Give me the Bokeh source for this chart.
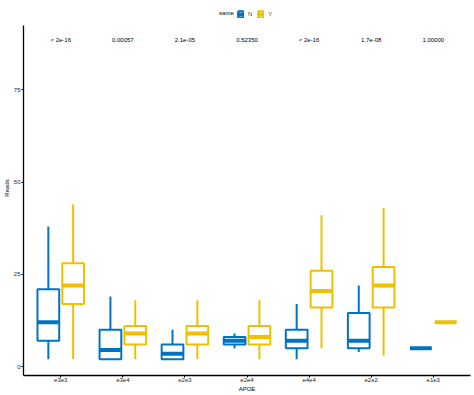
from bokeh.plotting import figure
from bokeh.models import ColumnDataSource, FactorRange, Range1d, Legend, LegendItem, FixedTicker, Label
from bokeh.transform import dodge
from bokeh.core.properties import value
from bokeh.embed import file_html
from bokeh.resources import INLINE

# ---- data ----
apoe = ["e3e3", "e3e4", "e2e3", "e2e4", "e4e4", "e2e2", "e1e3"]

n_low = [2, 2, 2, 5, 2, 4, 5]
n_q1 = [7, 2, 2, 6, 5, 5, 5]
n_med = [12, 4.5, 3.5, 7, 7, 7, 5]
n_q3 = [21, 10, 6, 8, 10, 14.5, 5]
n_high = [38, 19, 10, 9, 17, 22, 5]

y_low = [2, 2, 2, 2, 5, 3, 12]
y_q1 = [17, 6, 6, 6, 16, 16, 12]
y_med = [22, 9, 9, 8, 20.5, 22, 12]
y_q3 = [28, 11, 11, 11, 26, 27, 12]
y_high = [44, 18, 18, 18, 41, 43, 12]

pvals = ["< 2e-16", "0.00057", "2.1e-05", "0.52350", "< 2e-16", "1.7e-08", "1.00000"]
label_y = [88.5] * len(apoe)

groups = ["N", "Y"]
legend_title = "same"
colors = ["#0073C2", "#EFC000"]
FONT = "Liberation Sans"

p = figure(width=474, height=395, output_backend="svg", toolbar_location=None,
           x_range=FactorRange(factors=apoe, range_padding=0.2 / 7),
           y_range=Range1d(-2.4, 99.2),
           min_border_left=22, min_border_right=4, min_border_top=0, min_border_bottom=20)

p.xgrid.grid_line_color = None
p.ygrid.grid_line_color = None
p.outline_line_color = None
p.background_fill_color = "white"

items = []
bw = 0.35
for g, off, c, lo, q1, med, q3, hi in [
    (groups[0], -0.2, colors[0], n_low, n_q1, n_med, n_q3, n_high),
    (groups[1], 0.2, colors[1], y_low, y_q1, y_med, y_q3, y_high),
]:
    src = ColumnDataSource(dict(apoe=apoe, low=lo, q1=q1, med=med, q3=q3, high=hi))
    x = dodge("apoe", off, range=p.x_range)
    p.segment(x0=x, y0="q3", x1=x, y1="high", source=src, line_color=c, line_width=2)
    p.segment(x0=x, y0="low", x1=x, y1="q1", source=src, line_color=c, line_width=2)
    box = p.vbar(x=x, width=bw, bottom="q1", top="q3", source=src,
                 fill_color="white", line_color=c, line_width=2)
    medr = p.segment(x0=dodge("apoe", off - bw / 2, range=p.x_range), y0="med",
                     x1=dodge("apoe", off + bw / 2, range=p.x_range), y1="med",
                     source=src, line_color=c, line_width=4, line_cap="butt")
    items.append(LegendItem(label=g, renderers=[box, medr]))

tsrc = ColumnDataSource(dict(apoe=apoe, y=label_y, t=pvals))
p.text(x=dodge("apoe", 0, range=p.x_range), y="y", text="t", source=tsrc,
       text_align="center", text_baseline="middle", text_font_size="6px",
       text_font=value(FONT), text_color="black")

# axes
p.xaxis.axis_label = "APOE"
p.yaxis.axis_label = "Reads"
p.yaxis.ticker = FixedTicker(ticks=[0, 25, 50, 75])
p.yaxis.bounds = (-2.4, 92.4)
for ax in (p.xaxis[0], p.yaxis[0]):
    ax.axis_line_color = "black"
    ax.axis_line_width = 1.3
    ax.major_tick_line_color = "black"
    ax.major_tick_out = 2
    ax.major_tick_in = 0
    ax.minor_tick_line_color = None
    ax.major_label_text_font = FONT
    ax.major_label_text_font_size = "6px"
    ax.major_label_text_color = "#222222"
    ax.axis_label_text_font = FONT
    ax.axis_label_text_font_size = "6px"
    ax.axis_label_text_font_style = "normal"
    ax.axis_label_text_color = "black"
    ax.axis_label_standoff = 1
p.xaxis.major_label_standoff = 0
p.yaxis.major_label_standoff = 1

legend = Legend(items=items, orientation="horizontal",
                location=(214, 357), glyph_height=8, glyph_width=7,
                label_height=8, label_width=4,
                label_standoff=4, spacing=5, padding=2, margin=0,
                border_line_color=None, background_fill_alpha=0,
                label_text_font=FONT, label_text_font_size="6px")
p.add_layout(legend)

p.add_layout(Label(x=3.05, y=95.9, text=legend_title, text_font=FONT, text_font_size="6px",
                   text_font_style="normal",
                   text_baseline="middle", text_align="left", text_color="black"))

open("out.html", "w").write(file_html(p, INLINE))
